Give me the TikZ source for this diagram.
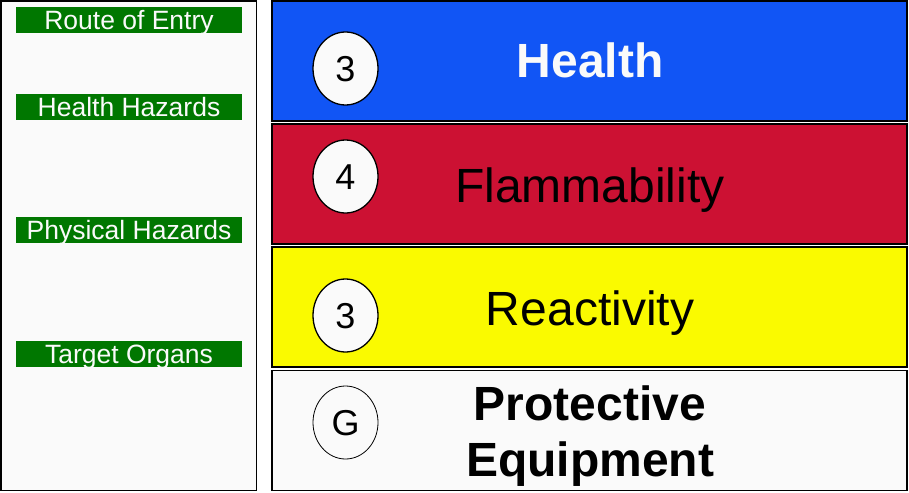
\documentclass[tikz,border=0pt]{standalone}
\usepackage{fontspec}
\setmainfont{Liberation Sans}
\definecolor{hblue}{RGB}{17,85,245}
\definecolor{fred}{RGB}{204,17,51}
\definecolor{ryellow}{RGB}{250,250,0}
\definecolor{lgreen}{RGB}{0,119,0}
\definecolor{offwhite}{RGB}{250,250,250}
\tikzset{
  bar/.style={draw=black, line width=1.5pt, minimum width=635pt, minimum height=120pt, inner sep=0pt, outer sep=0pt},
  tag/.style={fill=lgreen, minimum width=226pt, minimum height=26pt, inner sep=0pt, outer sep=0pt},
  tagtext/.style={anchor=base, inner sep=0pt, text=offwhite, font=\fontsize{26.5}{30}\selectfont},
  bigtext/.style={anchor=base, inner sep=0pt, font=\fontsize{48}{56}\selectfont},
  rating/.style={ellipse, draw=black, fill=offwhite, line width=1.3pt, minimum width=65pt, minimum height=73pt, inner sep=0pt},
  ratingtext/.style={anchor=base, inner sep=0pt, font=\fontsize{36}{40}\selectfont},
}
\usetikzlibrary{shapes.geometric}
\begin{document}
\begin{tikzpicture}[x={(1pt,0)}, y={(0,-1pt)}]
\useasboundingbox (0,0) rectangle (909,492);
\fill[white] (0,0) rectangle (909,492);
% left panel
\node[draw=black, line width=1.5pt, fill=offwhite, minimum width=255.5pt, minimum height=489.5pt, inner sep=0pt, outer sep=0pt] (panel) at (128.75,245.75) {};
\node[tag] (t1) at (129,20) {};
\node[tagtext] (t1t) at (129,29.5) {Route of Entry};
\node[tag] (t2) at (129,107) {};
\node[tagtext] (t2t) at (129,116.5) {Health Hazards};
\node[tag] (t3) at (129,230) {};
\node[tagtext] (t3t) at (129,239.5) {Physical Hazards};
\node[tag] (t4) at (129,354) {};
\node[tagtext] (t4t) at (129,363.5) {Target Organs};
% bars
\node[bar, fill=hblue] (health) at (589.5,61) {};
\node[bar, fill=fred] (flam) at (589.5,184) {};
\node[bar, fill=ryellow] (react) at (589.5,307) {};
\node[bar, fill=offwhite] (prot) at (589.5,430.25) {};
% texts
\node[bigtext, text=offwhite, font=\fontsize{48}{56}\selectfont\bfseries] (healtht) at (590,78) {Health};
\node[bigtext] (flamt) at (590,202) {Flammability};
\node[bigtext] (reactt) at (590,325) {Reactivity};
\node[bigtext, font=\fontsize{48}{56}\selectfont\bfseries] (prott1) at (590,420) {Protective};
\node[bigtext, font=\fontsize{48}{56}\selectfont\bfseries] (prott2) at (590,476) {Equipment};
% ratings
\node[rating] (r1) at (345.5,68.5) {};
\node[ratingtext] (r1t) at (345.5,81.5) {3};
\node[rating] (r2) at (345.5,176.5) {};
\node[ratingtext] (r2t) at (345.5,189.5) {4};
\node[rating] (r3) at (345.5,315.5) {};
\node[ratingtext] (r3t) at (345.5,328.5) {3};
\node[rating, line width=0.8pt] (r4) at (345.5,422.5) {};
\node[ratingtext] (r4t) at (345.5,435.5) {G};
\end{tikzpicture}
\end{document}
